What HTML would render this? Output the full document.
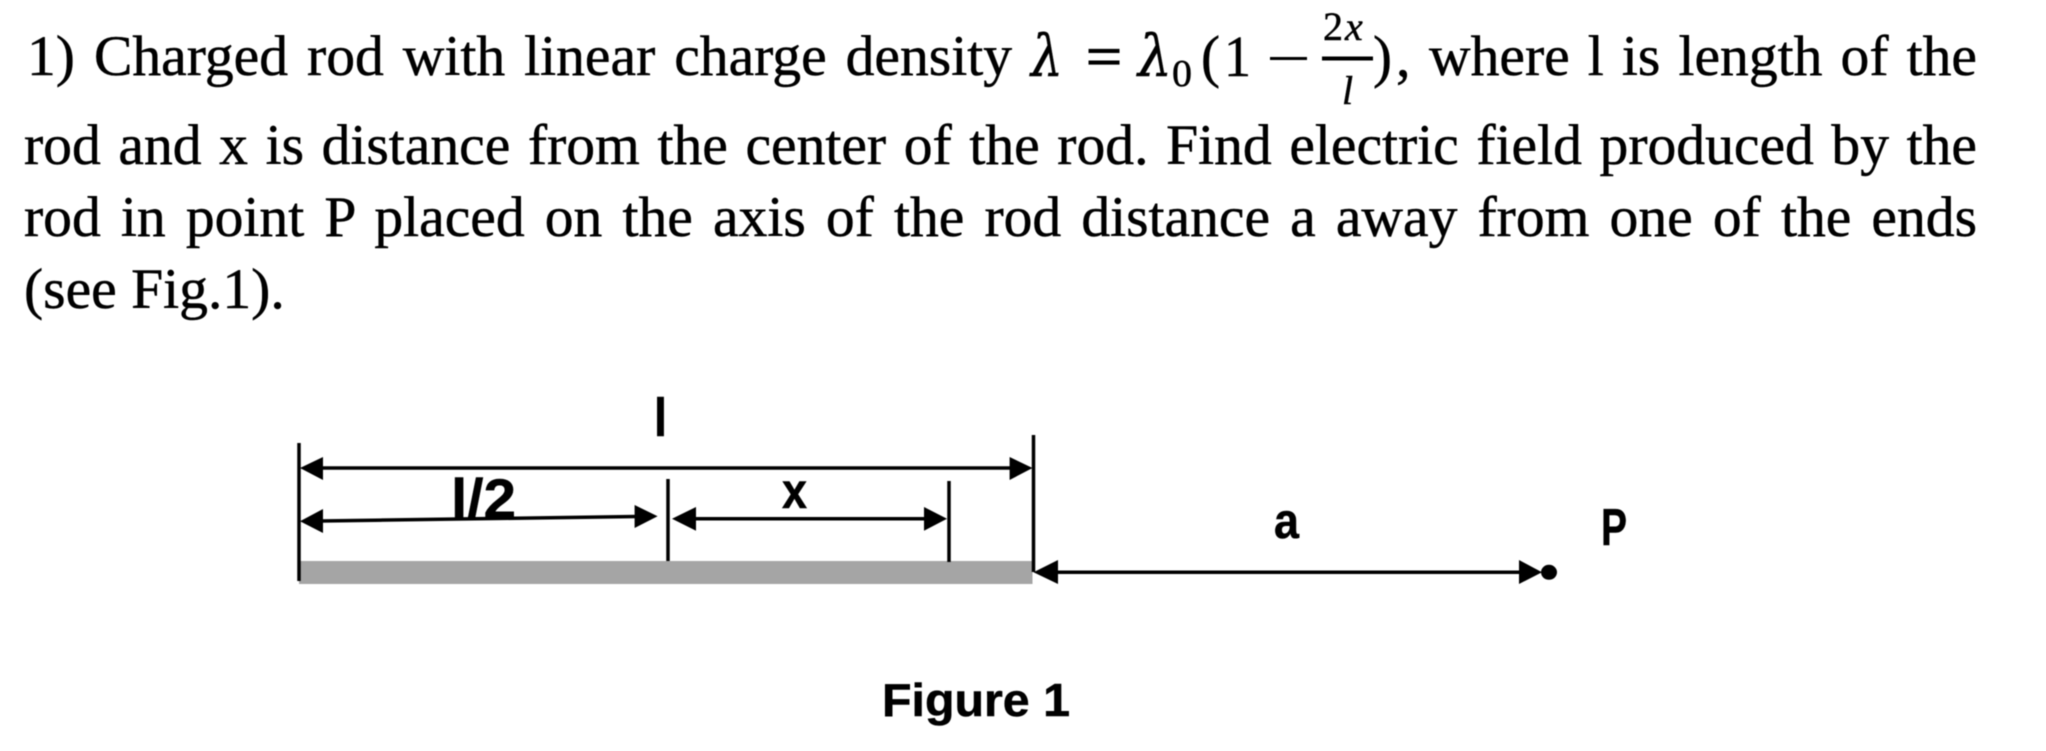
<!DOCTYPE html>
<html><head><meta charset="utf-8">
<style>
html,body{margin:0;padding:0;background:#fff;}
body{width:2046px;height:751px;overflow:hidden;position:relative;}
.t{position:absolute;font:57.6px/60px "Liberation Serif",serif;color:#000;text-align:justify;text-align-last:justify;white-space:normal;filter:blur(.5px);-webkit-text-stroke:.5px #000;}
svg{position:absolute;left:0;top:0;filter:blur(.5px);}
</style></head><body>
<div class="t" style="left:27px;top:27px;width:985px;">1) Charged rod with linear charge density</div>
<div class="t" style="left:1429px;top:27px;width:548px;">where l is length of the</div>
<div class="t" style="left:24px;top:116px;width:1953px;">rod and x is distance from the center of the rod. Find electric field produced by the</div>
<div class="t" style="left:24px;top:188px;width:1953px;">rod in point P placed on the axis of the rod distance a away from one of the ends</div>
<div class="t" style="left:24px;top:260px;text-align-last:left;white-space:nowrap;">(see Fig.1).</div>
<svg width="2046" height="751" viewBox="0 0 2046 751" xmlns="http://www.w3.org/2000/svg">
<g font-family="'Liberation Serif',serif" fill="#000" stroke="#000" stroke-width=".5">
<text x="1031" y="76" font-size="58" font-style="italic" font-family="'DejaVu Serif',serif" textLength="32" lengthAdjust="spacingAndGlyphs">λ</text>
<text x="1086" y="76" font-size="58" textLength="36" lengthAdjust="spacingAndGlyphs" stroke-width="1.2">=</text>
<text x="1138" y="76" font-size="58" font-style="italic" font-family="'DejaVu Serif',serif" textLength="34" lengthAdjust="spacingAndGlyphs">λ</text>
<text x="1172" y="86" font-size="38" textLength="20" lengthAdjust="spacingAndGlyphs">0</text>
<text x="1201" y="76" font-size="58" textLength="19" lengthAdjust="spacingAndGlyphs">(</text>
<text x="1224" y="76" font-size="58" textLength="27" lengthAdjust="spacingAndGlyphs">1</text>
<rect x="1270" y="57" width="37" height="3" stroke="none"/>
<rect x="1322" y="56.5" width="51" height="4" stroke="none"/>
<text x="1323" y="40" font-size="40">2</text>
<text x="1345" y="40" font-size="40" font-style="italic">x</text>
<text x="1342" y="104" font-size="40" font-style="italic">l</text>
<text x="1373" y="76" font-size="58" textLength="19" lengthAdjust="spacingAndGlyphs">)</text>
<text x="1396" y="76" font-size="58">,</text>
</g>
<rect x="299" y="561" width="733.5" height="23" fill="#a5a5a5"/>
<g stroke="#000" stroke-width="3.5" fill="none">
<line x1="299" y1="443" x2="299" y2="581"/>
<line x1="1033.5" y1="435" x2="1033.5" y2="572"/>
<line x1="668" y1="479" x2="668" y2="561"/>
<line x1="949" y1="481" x2="949" y2="562"/>
<line x1="320" y1="468" x2="1012" y2="468"/>
<line x1="320" y1="521" x2="637" y2="516.5"/>
<line x1="694" y1="518.7" x2="926" y2="518.7"/>
<line x1="1056" y1="572.3" x2="1521" y2="572.3"/>
</g>
<g fill="#000">
<polygon points="300,468 323,457 323,480"/>
<polygon points="1032.5,468 1009.6,457 1009.6,480"/>
<polygon points="300,521.3 323,509 323,533"/>
<polygon points="657.6,516.3 634.6,505 634.6,528"/>
<polygon points="672,518.7 696,507 696,530.7"/>
<polygon points="947,518.7 924,507 924,530.7"/>
<polygon points="1033.5,572.3 1058,560 1058,584"/>
<polygon points="1542,572.3 1519,560 1519,584"/>
<ellipse cx="1549" cy="572.3" rx="8" ry="7.5"/>
</g>
<g font-family="'Liberation Sans',sans-serif" font-weight="700" fill="#000" stroke="#000" stroke-width=".5">
<text x="654" y="436" font-size="54" textLength="13" lengthAdjust="spacingAndGlyphs">l</text>
<text x="451" y="518" font-size="56" textLength="65" lengthAdjust="spacingAndGlyphs">l/2</text>
<text x="782" y="508" font-size="50" textLength="25" lengthAdjust="spacingAndGlyphs">x</text>
<text x="1274" y="538" font-size="50" textLength="25" lengthAdjust="spacingAndGlyphs">a</text>
<text x="1601" y="545" font-size="52" textLength="26" lengthAdjust="spacingAndGlyphs">P</text>
<text x="882" y="716" font-size="46" textLength="188" lengthAdjust="spacingAndGlyphs">Figure 1</text>
</g>
</svg>
</body></html>
